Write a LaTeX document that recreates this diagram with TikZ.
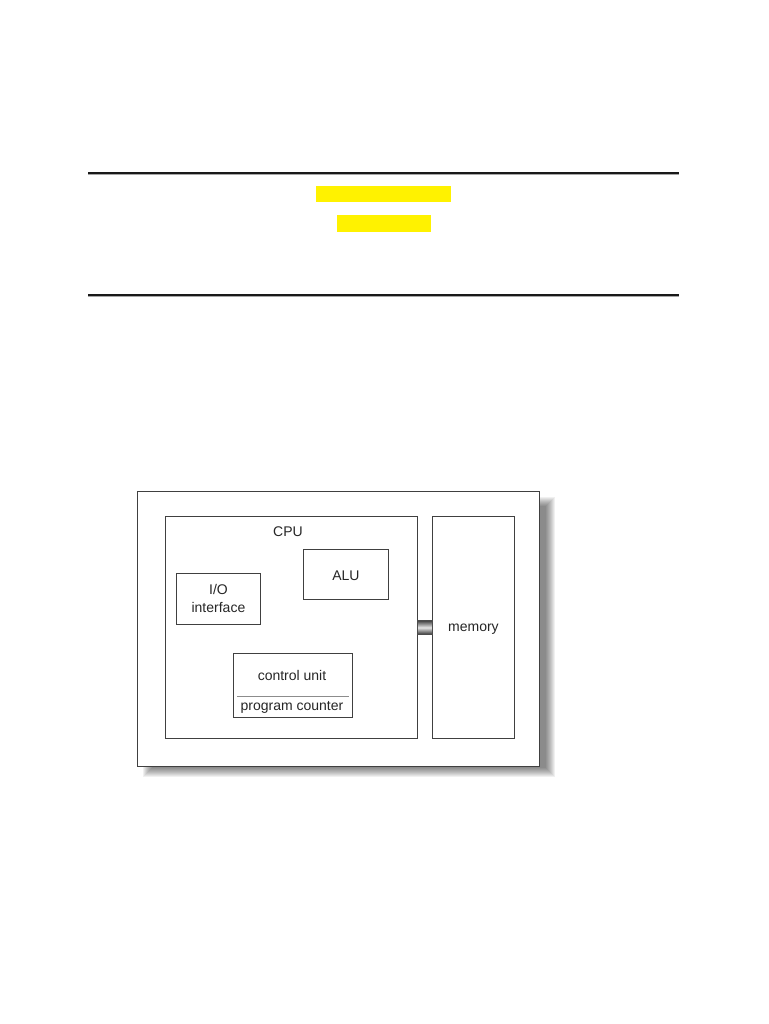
\documentclass[tikz,border=0pt]{standalone}
\usepackage{fontspec}
\setmainfont{Liberation Sans}
\usetikzlibrary{positioning}
\begin{document}
\begin{tikzpicture}[x=1pt,y=-1pt,
  box/.style={draw=black!75,line width=0.9pt,fill=white,inner sep=0pt},
  lbl/.style={font=\fontsize{14}{18}\selectfont,text=black!85,align=center,inner sep=0pt},
  hl/.style={fill=yellow,draw=none,inner sep=0pt},
  rule/.style={line width=2.4pt,black!90}]
\useasboundingbox (0,0) rectangle (768,1024);
% rules
\coordinate (r1a) at (88,173); \coordinate (r1b) at (679,173);
\coordinate (r2a) at (88,295); \coordinate (r2b) at (679,295);
\draw[black!35,line width=0.8pt] ([yshift=-1.8pt]r1a) -- ([yshift=-1.8pt]r1b);
\draw[rule] (r1a) -- (r1b);
\draw[black!35,line width=0.8pt] ([yshift=-1.8pt]r2a) -- ([yshift=-1.8pt]r2b);
\draw[rule] (r2a) -- (r2b);
% highlights
\node[hl,minimum width=135pt,minimum height=16pt] (h1) at (383.5,194) {};
\node[hl,minimum width=94pt,minimum height=17pt] (h2) at (384,223.5) {};
% soft shadow
\foreach \i in {0,1,...,9}{
  \fill[black,opacity=0.06] (143+\i,497+\i) rectangle (555-\i,777-\i);
}
% outer box
\node[box,minimum width=402pt,minimum height=275pt,anchor=north west] (outer) at (137,491) {};
% CPU
\node[box,minimum width=252pt,minimum height=222pt,anchor=north west] (cpu) at (165,516) {};
\node[lbl] (cpul) at (288,532) {CPU};
% memory
\node[box,minimum width=82pt,minimum height=222pt,anchor=north west] (mem) at (432,516) {};
\node[lbl] (meml) at ([yshift=-2pt]mem.center) {memory};
% ALU
\node[box,minimum width=85pt,minimum height=50pt,anchor=north west] (alu) at (303,549) {};
\node[lbl] (alul) at ([yshift=-1pt]alu.center) {ALU};
% I/O
\node[box,minimum width=84pt,minimum height=51pt,anchor=north west] (io) at (176,573) {};
\node[lbl] (iol) at (io.center) {I/O\\interface};
% control unit
\node[box,minimum width=119pt,minimum height=64pt,anchor=north west] (cu) at (233,653) {};
\node[lbl] (cul) at (292,675) {control unit};
\node[lbl] (pcl) at (292,707) {program counter};
\draw[black!45,line width=0.6pt] ([xshift=4pt]cu.west |- 0,696.5) coordinate (sepa) -- ([xshift=-4pt]cu.east |- 0,696.5) coordinate (sepb);
% bus
\node[draw=black!70,line width=0.6pt,inner sep=0pt,minimum width=15pt,minimum height=14pt,
  top color=black!75,bottom color=black!80,middle color=black!10] (bus) at (424.5,627.5) {};
\end{tikzpicture}
\end{document}
